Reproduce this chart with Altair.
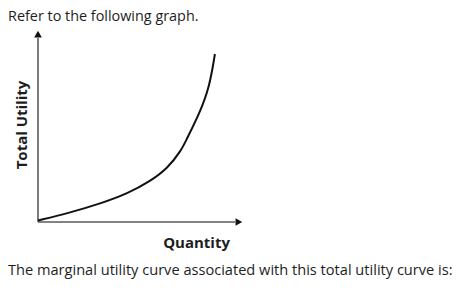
import altair as alt
import pandas as pd

# Data
quantity = [0.0, 1.45, 3.08, 4.38, 5.44, 6.33, 7.00, 7.23, 7.88, 8.37, 8.63]
total_utility = [0.08, 0.45, 0.97, 1.49, 2.10, 2.80, 3.75, 4.27, 5.66, 7.05, 8.75]

header_text = ["Refer to the following graph."]
footer_text = ["The marginal utility curve associated with this total utility curve is:"]
x_title = ["Quantity"]
y_title = ["Total Utility"]

FONT = "Open Sans"
TXT = "#1e1e1e"
AX = "#5a5a5a"

xs = alt.Scale(domain=[0, 10])
ys = alt.Scale(domain=[0, 10])

curve_df = pd.DataFrame({"q": quantity, "u": total_utility})
curve = alt.Chart(curve_df).mark_line(
    color="#111111", strokeWidth=2, interpolate="basis", clip=False
).encode(
    x=alt.X("q:Q", scale=xs, axis=None),
    y=alt.Y("u:Q", scale=ys, axis=None),
)

xaxis_df = pd.DataFrame({"x0": [0.0], "x1": [9.62], "y0": [0.0]})
xaxis = alt.Chart(xaxis_df).mark_rule(color=AX, strokeWidth=1.6).encode(
    x=alt.X("x0:Q", scale=xs, axis=None), x2="x1:Q", y=alt.Y("y0:Q", scale=ys, axis=None)
)
yaxis_df = pd.DataFrame({"y0": [0.0], "y1": [9.58], "x0": [0.0]})
yaxis = alt.Chart(yaxis_df).mark_rule(color=AX, strokeWidth=1.6).encode(
    y=alt.Y("y0:Q", scale=ys, axis=None), y2="y1:Q", x=alt.X("x0:Q", scale=xs, axis=None)
)

xarrow = alt.Chart(pd.DataFrame({"x": [9.80], "y": [0.0]})).mark_point(
    shape="triangle-right", filled=True, color="#111111", size=60, opacity=1
).encode(x=alt.X("x:Q", scale=xs, axis=None), y=alt.Y("y:Q", scale=ys, axis=None))
yarrow = alt.Chart(pd.DataFrame({"x": [0.0], "y": [9.79]})).mark_point(
    shape="triangle-up", filled=True, color="#111111", size=60, opacity=1
).encode(x=alt.X("x:Q", scale=xs, axis=None), y=alt.Y("y:Q", scale=ys, axis=None))

header = alt.Chart(pd.DataFrame({"t": header_text})).mark_text(
    align="left", baseline="alphabetic", font=FONT, fontSize=14.4, color=TXT
).encode(x=alt.value(-30), y=alt.value(-9), text="t:N")

footer = alt.Chart(pd.DataFrame({"t": footer_text})).mark_text(
    align="left", baseline="alphabetic", font=FONT, fontSize=14.6, color=TXT
).encode(x=alt.value(-30), y=alt.value(245), text="t:N")

xt = alt.Chart(pd.DataFrame({"t": x_title})).mark_text(
    align="right", baseline="alphabetic", font=FONT, fontSize=15, fontWeight="bold", color=TXT
).encode(x=alt.value(192), y=alt.value(218), text="t:N")

yt = alt.Chart(pd.DataFrame({"t": y_title})).mark_text(
    align="center", baseline="alphabetic", font=FONT, fontSize=15, fontWeight="bold", color=TXT, angle=270
).encode(x=alt.value(-11), y=alt.value(95), text="t:N")

chart = alt.layer(xaxis, yaxis, curve, xarrow, yarrow, header, footer, xt, yt).properties(
    width=205,
    height=192,
    padding={"left": 38, "top": 30, "right": 231, "bottom": 69},
    autosize=alt.AutoSizeParams(type="none"),
    background="white",
).configure_view(stroke=None)

chart.save("out.html", embed_options={"renderer": "svg", "actions": False})
